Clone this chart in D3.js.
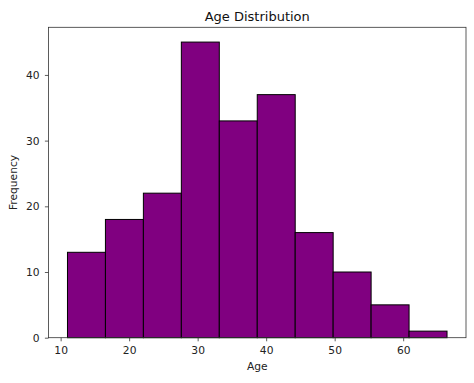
<!DOCTYPE html>
<html><head><meta charset="utf-8">
<script src="https://cdn.jsdelivr.net/npm/d3@7"></script>
<style>body{margin:0;background:#fff}svg{display:block;font-family:"DejaVu Sans",sans-serif}</style>
</head><body>
<svg id="c" width="474" height="383"></svg>
<script>
const binEdges = [11, 16.54, 22.08, 27.62, 33.16, 38.7, 44.24, 49.78, 55.32, 60.86, 66.4];
const counts = [13, 18, 22, 45, 33, 37, 16, 10, 5, 1];
const xTicks = [10, 20, 30, 40, 50, 60];
const yTicks = [0, 10, 20, 30, 40];
const title = "Age Distribution";
const xLabel = "Age";
const yLabel = "Frequency";

const svg = d3.select("#c");
const L = 48.5, R = 466, T = 27.3, B = 337.7;
const span = binEdges[binEdges.length-1] - binEdges[0];
const x = d3.scaleLinear().domain([binEdges[0] - span*0.05, binEdges[binEdges.length-1] + span*0.05]).range([L, R]);
const y = d3.scaleLinear().domain([0, d3.max(counts)*1.05]).range([B, T]);

const bins = counts.map((c,i)=>({x0:binEdges[i], x1:binEdges[i+1], c}));
svg.append("g").selectAll("rect").data(bins).join("rect")
  .attr("x", d=>x(d.x0)).attr("y", d=>y(d.c))
  .attr("width", d=>x(d.x1)-x(d.x0)).attr("height", d=>y(0)-y(d.c))
  .attr("fill", "#800080").attr("stroke", "#000").attr("stroke-width", 1);

const xAxis = svg.append("g").attr("transform", `translate(0,${B})`)
  .call(d3.axisBottom(x).tickValues(xTicks).tickSize(3.6).tickPadding(5.5).tickFormat(d3.format("d")));
const yAxis = svg.append("g").attr("transform", `translate(${L},0)`)
  .call(d3.axisLeft(y).tickValues(yTicks).tickSize(3.6).tickPadding(5.4).tickFormat(d3.format("d")));
[xAxis, yAxis].forEach(g=>{
  g.select(".domain").remove();
  g.selectAll("line").attr("stroke", "#333").attr("stroke-width", 0.8);
  g.selectAll("text").attr("font-size", 10.7).attr("fill", "#222").attr("font-family", "DejaVu Sans");
});

svg.append("rect").attr("x", L).attr("y", T).attr("width", R-L).attr("height", B-T)
  .attr("fill", "none").attr("stroke", "#333").attr("stroke-width", 0.8);

svg.append("text").attr("x", (L+R)/2).attr("y", 20.5).attr("text-anchor", "middle")
  .attr("font-size", 13).attr("fill", "#111").text(title);
svg.append("text").attr("x", (L+R)/2).attr("y", 370).attr("text-anchor", "middle")
  .attr("font-size", 10.7).attr("fill", "#222").text(xLabel);
svg.append("text").attr("transform", `translate(17,${(T+B)/2}) rotate(-90)`).attr("text-anchor", "middle")
  .attr("font-size", 10.7).attr("fill", "#222").text(yLabel);
</script>
</body></html>
